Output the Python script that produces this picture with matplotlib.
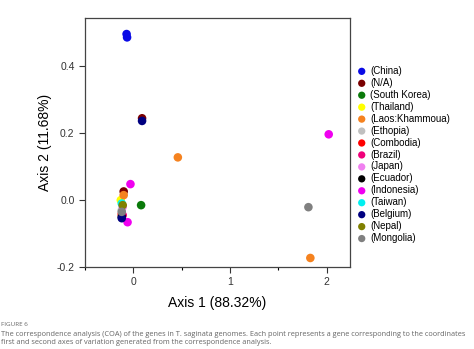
import matplotlib
matplotlib.use("Agg")
import matplotlib.pyplot as plt
from matplotlib.ticker import MultipleLocator, FormatStrFormatter

plt.rcParams["font.family"] = ["Liberation Sans", "DejaVu Sans"]

# country labels and colours, in legend order
countries = ["(China)", "(N/A)", "(South Korea)", "(Thailand)", "(Laos:Khammoua)",
             "(Ethopia)", "(Combodia)", "(Brazil)", "(Japan)", "(Ecuador)",
             "(Indonesia)", "(Taiwan)", "(Belgium)", "(Nepal)", "(Mongolia)"]
colors = ["#0a0ae6", "#7a0000", "#0a7a0a", "#ffff00", "#f5821f",
          "#c0c0c0", "#ff0000", "#f0007a", "#f080f0", "#000000",
          "#f000f0", "#00f0f0", "#000080", "#808000", "#808080"]

# axis 1 / axis 2 coordinates per country
ax1_vals = [[-0.07, -0.065], [0.09, -0.10], [0.08], [-0.13], [0.46, 1.83, -0.10],
            [-0.12], [-0.12], [-0.11], [-0.11], [-0.12],
            [2.02, -0.03, -0.06], [-0.12], [0.09, -0.12], [-0.11], [1.81, -0.12]]
ax2_vals = [[0.497, 0.487], [0.245, 0.026], [-0.015], [0.0], [0.128, -0.173, 0.015],
            [-0.03], [-0.042], [-0.045], [-0.02], [-0.05],
            [0.197, 0.048, -0.066], [-0.01], [0.237, -0.054], [-0.015], [-0.021, -0.035]]

fig = plt.figure(figsize=(4.74, 3.49), dpi=100)
ax = fig.add_axes([85/474, 1-267/349, 265/474, 249/349])

for name, c, xs, ys in zip(countries, colors, ax1_vals, ax2_vals):
    ax.scatter(xs, ys, s=38, color=c, label=name, edgecolors="none")

ax.set_xlim(-0.5, 2.24)
ax.set_ylim(-0.2, 0.545)
ax.xaxis.set_major_locator(MultipleLocator(1))
ax.xaxis.set_minor_locator(MultipleLocator(0.5))
ax.yaxis.set_major_locator(MultipleLocator(0.2))
ax.xaxis.set_major_formatter(FormatStrFormatter("%d"))
ax.yaxis.set_major_formatter(FormatStrFormatter("%.1f"))
ax.tick_params(which="major", length=4, width=0.8, labelsize=7.5, colors="#333333")
ax.tick_params(axis="x", which="minor", length=2, width=0.8)
for s in ax.spines.values():
    s.set_color("#444444")
    s.set_linewidth(0.9)

ax.set_xlabel("Axis 1 (88.32%)", fontsize=10, labelpad=6)
ax.set_ylabel("Axis 2 (11.68%)", fontsize=10, labelpad=3)

ax.legend(loc="upper left", bbox_to_anchor=(352/474, 1-62/349), bbox_transform=fig.transFigure,
          frameon=False, fontsize=7, handletextpad=0.3, labelspacing=0.2,
          markerscale=0.85, borderaxespad=0, handlelength=1.2)

cap = dict(color="#666666", family=["Open Sans", "DejaVu Sans"])
fig.text(0.002, 1-325/349, "FIGURE 6", fontsize=4.5, va="center", **cap)
fig.text(0.002, 1-334/349,
         "The correspondence analysis (COA) of the genes in T. saginata genomes. Each point represents a gene corresponding to the coordinates",
         fontsize=5.3, va="center", **cap)
fig.text(0.002, 1-343/349,
         "first and second axes of variation generated from the correspondence analysis.",
         fontsize=5.3, va="center", **cap)

fig.savefig("out.png", dpi=100)
